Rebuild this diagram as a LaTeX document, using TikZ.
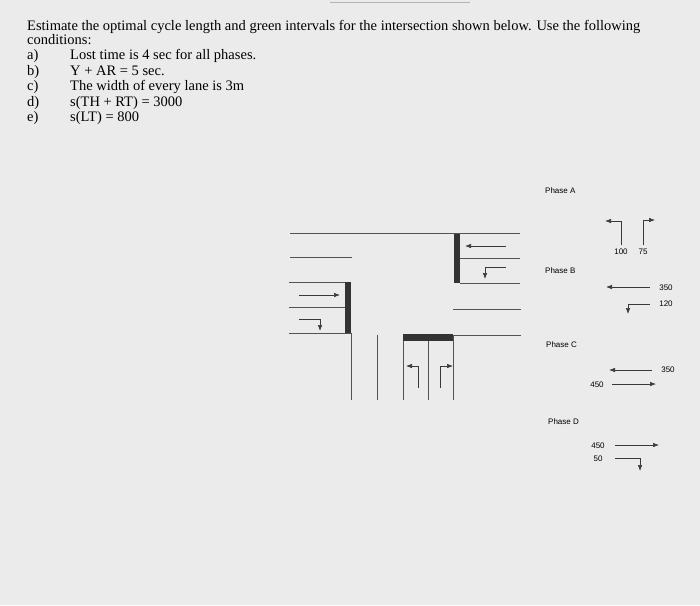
\documentclass[tikz,border=0pt]{standalone}
\usepackage{fontspec}
\setmainfont{Liberation Serif}
\newfontfamily\phasefont{Liberation Sans}
\usetikzlibrary{arrows.meta}
\tikzset{
  road/.style={gray!65!black, line width=0.7pt},
  bar/.style={fill=black!80},
  mv/.style={gray!45!black, line width=0.6pt, -{Latex[length=6pt,width=4.5pt]}},
  txt/.style={anchor=base west, inner sep=0pt, font=\fontsize{14.5}{16}\selectfont},
  ph/.style={anchor=base west, inner sep=0pt, font=\phasefont\fontsize{8}{9}\selectfont},
  vol/.style={anchor=base, inner sep=0pt, font=\phasefont\fontsize{8}{9}\selectfont}
}
\begin{document}
\begin{tikzpicture}[x=1pt,y=-1pt]
\useasboundingbox[fill=gray!16] (0,0) rectangle (700,605);
\draw[gray!60, line width=0.6pt] (330,2) -- (470,2);

% problem statement
\node[txt] (q1) at (27,30) {Estimate the optimal cycle length and green intervals for the intersection shown below. Use the following};
\node[txt] (q2) at (27,44) {conditions:};
\foreach \l/\t/\y in {a)/{Lost time is 4 sec for all phases.}/59,
                      b)/{Y + AR = 5 sec.}/75,
                      c)/{The width of every lane is 3m}/90,
                      d)/{s(TH + RT) = 3000}/106,
                      e)/{s(LT) = 800}/121}{
  \node[txt] (l\l) at (27,\y) {\l};
  \node[txt] at (70,\y) {\t};
}

% intersection
\draw[road] (290,233) -- (520,233);
\draw[road] (290,257) -- (352,257);
\draw[road] (289,282) -- (345,282);
\draw[road] (289,307) -- (345,307);
\draw[road] (289,333) -- (352,333);
\draw[road] (460,258) -- (520,258);
\draw[road] (460,283) -- (520,283);
\draw[road] (453,309) -- (521,309);
\draw[road] (453,335) -- (521,335);
\draw[road] (351,333) -- (351,400);
\draw[road] (377,335) -- (377,400);
\draw[road] (403,341) -- (403,400);
\draw[road] (428,341) -- (428,400);
\draw[road] (453,335) -- (453,400);
\fill[bar] (345,282) rectangle (351,333);
\fill[bar] (454,234) rectangle (460,283);
\fill[bar] (403,334) rectangle (453,341);

% lane arrows
\coordinate (wa) at (299,295); \coordinate (wb) at (340,295);
\draw[mv] (wa) -- (wb);
\coordinate (wc) at (299,319); \coordinate (wd) at (320,331);
\draw[mv] (wc) -| (wd);
\coordinate (ea) at (506,246); \coordinate (eb) at (465,246);
\draw[mv] (ea) -- (eb);
\coordinate (ec) at (506,267); \coordinate (ed) at (485,279);
\draw[mv] (ec) -| (ed);
\coordinate (na) at (418,388); \coordinate (nb) at (406,366);
\draw[mv] (na) |- (nb);
\coordinate (nc) at (440,388); \coordinate (nd) at (453,366);
\draw[mv] (nc) |- (nd);

% phases
\node[ph] (pA) at (545,193) {Phase A};
\node[ph] (pB) at (545,273) {Phase B};
\node[ph] (pC) at (546,347) {Phase C};
\node[ph] (pD) at (548,424) {Phase D};

\node[vol] (a1) at (621,254) {100};
\node[vol] (a2) at (643,254) {75};
\coordinate (a1t) at (605,221); \coordinate (a2t) at (655,220);
\draw[mv] (a1.north) ++(0,-3) |- (a1t);
\draw[mv] (a2.north) ++(0,-3) |- (a2t);

\node[vol] (b1) at (666,290) {350};
\node[vol] (b2) at (666,306) {120};
\coordinate (b1t) at (606,287); \coordinate (b2t) at (628,314);
\draw[mv] (650,287) -- (b1t);
\draw[mv] (650,304) -| (b2t);

\node[vol] (c1) at (668,372) {350};
\node[vol] (c2) at (597,387) {450};
\coordinate (c1t) at (609,370); \coordinate (c2t) at (656,384);
\draw[mv] (652,370) -- (c1t);
\draw[mv] (612,384) -- (c2t);

\node[vol] (d1) at (598,448) {450};
\node[vol] (d2) at (598,461) {50};
\coordinate (d1t) at (659,445); \coordinate (d2t) at (640,471);
\draw[mv] (615,445) -- (d1t);
\draw[mv] (615,458) -| (d2t);
\end{tikzpicture}
\end{document}
